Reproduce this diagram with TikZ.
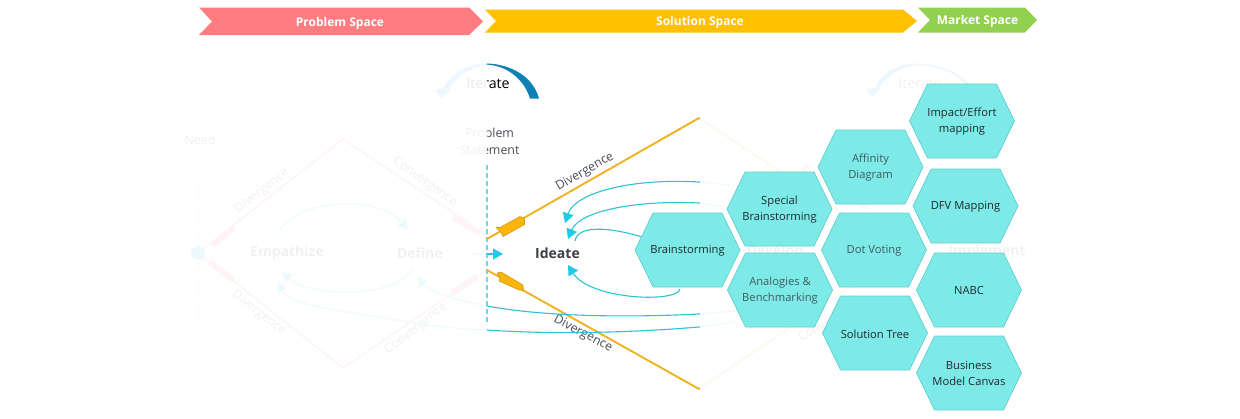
\documentclass[tikz,border=0pt]{standalone}
\usepackage{fontspec}
\setmainfont{Open Sans}
\usetikzlibrary{arrows.meta}
\definecolor{cProblem}{HTML}{FF7C80}
\definecolor{cSolution}{HTML}{FFC000}
\definecolor{cMarket}{HTML}{92D050}
\definecolor{cHex}{HTML}{7EEAE8}
\definecolor{cHexEdge}{HTML}{62CFCF}
\definecolor{cTeal}{HTML}{2CC3D6}
\definecolor{cArrow}{HTML}{1FCBE6}
\definecolor{cOrange}{HTML}{EFB321}
\definecolor{cPencil}{HTML}{FDB50E}
\definecolor{cOrangeDk}{HTML}{D29A12}
\definecolor{cSky}{HTML}{2AA2E8}
\definecolor{cIter}{HTML}{0E80B4}
\definecolor{cInk}{HTML}{1F2A2E}
\definecolor{cSoft}{HTML}{3F5C60}
\definecolor{cGrey}{HTML}{4A4F55}
\definecolor{cDash}{HTML}{6FD6E2}
\newcommand{\hexn}[5]{%
  \path[hexa] ({#2-52.5},{#3}) -- ({#2-34.5},{#3-37}) -- ({#2+34.5},{#3-37}) -- ({#2+52.5},{#3}) -- ({#2+34.5},{#3+37}) -- ({#2-34.5},{#3+37}) -- cycle;
  \node[hexlabel,text=#4] (#1) at (#2,#3) {#5};}
\tikzset{
  banner/.style={draw=none},
  bannertext/.style={text=white,yshift=-1.5pt,font=\fontsize{12}{14}\selectfont\bfseries},
  hexa/.style={fill=cHex,draw=cHexEdge,line width=0.7pt,line join=round},
  hexlabel/.style={align=center,yshift=-0.8pt,font=\fontsize{11.2}{16}\selectfont,inner sep=0pt},
  ghost/.style={text=cGrey,yshift=-1pt,font=\fontsize{12.4}{17}\selectfont},
  ghostbold/.style={text=cGrey,yshift=-1pt,font=\fontsize{14}{17}\selectfont\bfseries},
  flow/.style={draw=cTeal,line width=1.1pt},
  flowhead/.style={flow,-{Triangle[length=10pt,width=11pt,fill=cArrow,color=cArrow]}},
  redge/.style={draw=cProblem,line width=1.5pt},
  rthick/.style={draw=cProblem,line width=6pt},
  yedge/.style={draw=cOrange,line width=1.9pt},
  pencil/.style={fill=cPencil,draw=cOrangeDk,line width=0.6pt,line join=round},
  veil/.style={fill=white,fill opacity=0.92,draw=none},
}
\begin{document}
\begin{tikzpicture}[x=1pt,y=-1pt]
\useasboundingbox (0,0) rectangle (1240,418);
\fill[white] (0,0) rectangle (1240,418);

% ---- layer that is faded by the veils ----
\coordinate (need) at (198,253);
\coordinate (ltop) at (343,139);
\coordinate (lbot) at (343,368);
\coordinate (lru) at (487,235);
\coordinate (lrd) at (486,271);
\draw[redge] (need) -- (ltop) -- (lru);
\draw[redge] (need) -- (lbot) -- (lrd);
\coordinate (ra) at (212,245); \coordinate (rb) at (235,227);
\coordinate (rc) at (210,262); \coordinate (rd) at (233,280);
\coordinate (re) at (453,217); \coordinate (rf) at (480,233);
\coordinate (rg) at (452,293); \coordinate (rh) at (477,277);
\draw[rthick] (ra) -- (rb);
\draw[rthick] (rc) -- (rd);
\draw[rthick] (re) -- (rf);
\draw[rthick] (rg) -- (rh);
\fill[cSky] (need) circle (7);
\draw[cArrow,line width=1pt,dashed] (198,173) -- (need) -- (198,330);

\node[ghost] (lneed) at (200,139) {Need};
\node[ghostbold] (emp) at (287,252) {Empathize};
\node[ghostbold] (def) at (420,252) {Define};
\node[ghost,rotate=38] (d1) at (262,190) {Divergence};
\node[ghost,rotate=-35] (c1) at (425,181) {Convergence};
\node[ghost,rotate=-38] (d2) at (259,312) {Divergence};
\node[ghost,rotate=38] (c2) at (416,328) {Convergence};

\coordinate (ea) at (280,230); \coordinate (eb) at (408,230);
\coordinate (ec) at (412,268); \coordinate (ed) at (282,272);
\draw[flowhead] (ea) .. controls (300,198) and (380,195) .. (eb);
\draw[flowhead] (ec) .. controls (400,298) and (310,298) .. (ed);

% left Iterate
\fill[cSky] (487,63.5) .. controls (468,64) and (452,72) .. (443,88) -- (435,90) -- (442,98) -- (451,89) -- (449,88) .. controls (458,76) and (470,67) .. (487,65) -- cycle;
\node[ghost,text=black,font=\fontsize{14.2}{16}\selectfont] (iterl) at (488,82) {Iterate};
\node[ghost,align=center] (stmt) at (489.5,140) {Problem\\Statement};

% right diamond and labels
\coordinate (ytop) at (699,118);
\coordinate (ybot) at (699,389);
\coordinate (yr1) at (872,232);
\coordinate (yr2) at (872,272);
\draw[yedge] (ytop) -- (yr1);
\draw[yedge] (ybot) -- (yr2);
\node[ghost,rotate=-31] (c3) at (835,187) {Convergence};
\node[ghost,rotate=31] (c4) at (832,319) {Convergence};
\node[ghostbold] (dev) at (775,251) {Develop};
\node[ghostbold] (impl) at (987,251) {Implement};

% right Iterate
\fill[cSky] (917,63.5) .. controls (898,64) and (882,72) .. (875,88) -- (866,89) -- (872,97) -- (881,89) -- (879,88) .. controls (887,76) and (900,67) .. (917,65) .. controls (937,65) and (955,72) .. (966,85) -- (968,83) .. controls (955,70) and (937,64) .. (917,63.5) -- cycle;
\node[ghost,font=\fontsize{14.2}{16}\selectfont] (iterr) at (920,82) {Iterate};

% flows whose tails fade at both sides
\coordinate (f1a) at (699,182); \coordinate (f1b) at (738,186);
\coordinate (f2a) at (699,203); \coordinate (f2b) at (724,207);
\coordinate (f3a) at (699,314); \coordinate (f3b) at (735,311);
\coordinate (f4a) at (699,327); \coordinate (f4b) at (735,322);
\coordinate (f3l) at (487,306); \coordinate (f3t) at (417,277);
\coordinate (f4l) at (487,330); \coordinate (f4m) at (380,317); \coordinate (f4t) at (277,282);
\draw[flow] (f1a) -- (f1b);
\draw[flow] (f2a) -- (f2b);
\draw[flow] (f3a) -- (f3b);
\draw[flow] (f4a) -- (f4b);
\draw[flowhead] (f3l) .. controls (455,300) and (430,292) .. (f3t);
\draw[flowhead] (f4l) .. controls (450,329) and (410,323) .. (f4m) .. controls (335,310) and (290,305) .. (f4t);
\coordinate (small0) at (473,254);
\draw[flow] (small0) -- (487,254);

% veils
\fill[veil] (0,40) rectangle (486.6,418);
\fill[veil] (699.5,40) rectangle (1240,418);

% ---- full strength layer ----
\path[banner,fill=cProblem] (199,7.5) -- (469,7.5) -- (483,21.5) -- (469,35) -- (199,35) -- (212,21.5) -- cycle;
\path[banner,fill=cSolution] (485,9.5) -- (903,9.5) -- (917,21) -- (903,32.5) -- (485,32.5) -- (496,21) -- cycle;
\path[banner,fill=cMarket] (918,7.5) -- (1025,7.5) -- (1037,20) -- (1025,32.5) -- (918,32.5) -- (930,20) -- cycle;
\node[bannertext] (pspace) at (340,21.5) {Problem Space};
\node[bannertext] (sspace) at (700,21) {Solution Space};
\node[bannertext] (mspace) at (977.5,20) {Market Space};

% Iterate right half, dark
\fill[cIter] (486.6,63.5) .. controls (510,64) and (533,76) .. (539,98.5) -- (530,98.5) .. controls (525,82) and (510,66) .. (486.6,64.5) -- cycle;

\coordinate (dashtop) at (487,165);
\coordinate (dashbot) at (487,325);
\draw[cDash,line width=1.5pt,dash pattern=on 5pt off 3pt] (dashtop) -- (dashbot);

% orange lines and pencils
\coordinate (yl1) at (487,239);
\coordinate (yl2) at (487,270);
\draw[yedge] (yl1) -- (ytop);
\draw[yedge] (yl2) -- (ybot);
\path[pencil] (496,227.5) -- (500,227.5) -- (520,216.5) -- (524.5,218.5) -- (524.5,224.5) -- (503,236.5) -- (501,232.5) -- cycle;
\path[pencil] (497,273) -- (501,272) -- (523,285) -- (523.5,290.5) -- (519,290) -- (499,281) -- (500,277) -- cycle;

\node[ghost,rotate=30] (d3) at (585,171) {Divergence};
\node[ghost,rotate=-28] (d4) at (583,333) {Divergence};

\node[text=cGrey!80!black,yshift=-1pt,font=\fontsize{14}{17}\selectfont\bfseries] (ideate) at (557.5,252) {Ideate};

% flows
\draw[flowhead] (f1a) .. controls (630,178) and (575,193) .. (565,223);
\draw[flowhead] (f2a) .. controls (640,200) and (580,210) .. (568,239);
\coordinate (b1) at (642,237);
\coordinate (b1e) at (575,241);
\coordinate (b2) at (680,289);
\coordinate (b2e) at (568,265);
\draw[flow] (b1) .. controls (620,230) and (578,222) .. (b1e);
\draw[flowhead] (b2) .. controls (678,303) and (590,300) .. (b2e);
\draw[flow] (f3l) .. controls (540,316) and (620,318) .. (f3a);
\draw[flow] (f4l) .. controls (560,335) and (640,332) .. (f4a);
\coordinate (small1) at (503,254);
\draw[flowhead] (487,254) -- (small1);

% hexagons
\hexn{impact}{962}{121}{cInk}{Impact/Effort\\mapping}
\hexn{affinity}{870.5}{167}{cSoft}{Affinity\\Diagram}
\hexn{special}{779.5}{209}{cInk}{Special\\Brainstorming}
\hexn{dot}{874}{250}{cSoft}{Dot Voting}
\hexn{dfv}{965.5}{206}{cInk}{DFV Mapping}
\hexn{brain}{687.5}{250}{cInk}{Brainstorming}
\hexn{nabc}{969}{290}{cInk}{NABC}
\hexn{analog}{780}{290}{cSoft}{Analogies \&\\Benchmarking}
\hexn{tree}{875}{333}{cInk}{Solution Tree}
\hexn{canvas}{969}{373}{cInk}{Business\\Model Canvas}
\end{tikzpicture}
\end{document}
